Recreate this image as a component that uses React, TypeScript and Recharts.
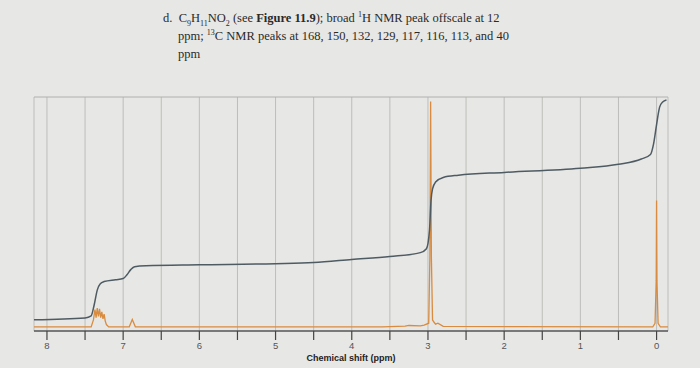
import { ComposedChart, Line, XAxis, YAxis, CartesianGrid, ReferenceLine } from "recharts";

// chemical shift ticks (ppm), every half unit
const TICKS = [0, 0.5, 1, 1.5, 2, 2.5, 3, 3.5, 4, 4.5, 5, 5.5, 6, 6.5, 7, 7.5, 8];

// 1H spectrum trace (ppm, intensity)
const spectrumPpm = [
  8.17, 7.42, 7.39, 7.37, 7.355, 7.34, 7.325, 7.31, 7.295, 7.28, 7.265, 7.25, 7.235, 7.22, 7.19,
  6.92, 6.895, 6.88, 6.865, 6.84,
  3.6, 3.3, 3.25, 3.1, 3.05, 2.99, 2.975, 2.965, 2.955, 2.94, 2.92, 2.9, 2.87, 2.8,
  0.05, 0.02, 0.005, 0.0, -0.005, -0.02, -0.05, -0.15,
];
const spectrumInt = [
  0, 0, 3, 7.5, 4, 8.2, 4.5, 7.8, 4, 6.5, 3.5, 5.5, 2.5, 1, 0,
  0, 2, 3.2, 2, 0,
  0, 0.3, 0.6, 0.4, 0.8, 1.6, 30, 98, 30, 3, 2, 1.2, 1.6, 0.2,
  0, 1.5, 20, 55, 20, 1.5, 0, 0,
];

// integral trace (ppm, height)
const integralPpm = [
  8.17, 7.5, 7.42, 7.38, 7.34, 7.3, 7.25, 7.1, 7.0, 6.95, 6.9, 6.85, 6.7, 6.0, 5.0, 4.5, 4.0, 3.5,
  3.1, 3.02, 2.98, 2.96, 2.94, 2.9, 2.8, 2.6, 2.0, 1.0, 0.5, 0.2, 0.08, 0.04, 0.0, -0.04, -0.08, -0.13,
];
const integralInt = [
  3.1, 3.9, 4.8, 9.6, 16, 18.8, 19.7, 20.5, 21, 22.7, 24.9, 26.2, 26.6, 27, 27.5, 28, 29.3, 30.6,
  32.3, 34, 42, 55, 60, 63, 65, 66, 67.2, 69, 70.7, 73, 75, 79.5, 88, 95.6, 97.8, 98.7,
];

const spectrum = spectrumPpm.map((p, i) => ({ ppm: p, v: spectrumInt[i] }));
const integral = integralPpm.map((p, i) => ({ ppm: p, v: integralInt[i] }));

const bg = "#e7e7e5";
const small = { fontSize: 8, lineHeight: 0 };

export default function App() {
  return (
    <div
      style={{
        position: "absolute",
        left: 0,
        top: 0,
        width: 700,
        height: 368,
        background: bg,
        overflow: "hidden",
      }}
    >
      <div
        style={{
          position: "absolute",
          left: 163,
          top: 9,
          width: 400,
          fontFamily: "'Liberation Serif', 'DejaVu Serif', serif",
          fontSize: 12.5,
          lineHeight: "18px",
          color: "#2a2a2a",
        }}
      >
        <div>
          d.&nbsp;&nbsp;C<sub style={small}>9</sub>H<sub style={small}>11</sub>NO
          <sub style={small}>2</sub> (see <b>Figure 11.9</b>); broad <sup style={small}>1</sup>H
          NMR peak offscale at 12
        </div>
        <div style={{ paddingLeft: 15 }}>
          ppm; <sup style={small}>13</sup>C NMR peaks at 168, 150, 132, 129, 117, 116, 113, and 40
        </div>
        <div style={{ paddingLeft: 15 }}>ppm</div>
      </div>

      <ComposedChart
        width={700}
        height={368}
        margin={{ top: 97, right: 32, left: 34, bottom: 0 }}
        style={{ position: "absolute", left: 0, top: 0 }}
      >
        <CartesianGrid horizontal={false} stroke="#bdbdbb" strokeWidth={1} />
        <XAxis
          type="number"
          dataKey="ppm"
          domain={[-0.15, 8.17]}
          reversed
          allowDataOverflow
          ticks={TICKS}
          interval={0}
          height={37}
          tickSize={9}
          tickFormatter={(t: number) => (Number.isInteger(t) ? String(t) : "")}
          tick={{ fontSize: 9.5, fill: "#555", fontFamily: "'Liberation Sans', Arial, sans-serif" }}
          axisLine={{ stroke: "#555", strokeWidth: 1.5 }}
          tickLine={{ stroke: "#444", strokeWidth: 1.2 }}
          label={{
            value: "Chemical shift (ppm)",
            position: "insideBottom",
            offset: 7,
            style: {
              fontSize: 9,
              fontWeight: "bold",
              fill: "#222",
              fontFamily: "'Liberation Sans', Arial, sans-serif",
            },
          }}
        />
        <YAxis
          type="number"
          domain={[-1.8, 100]}
          allowDataOverflow
          width={0}
          tick={false}
          tickLine={false}
          axisLine={{ stroke: "#3c3c3c", strokeWidth: 1.5 }}
        />
        <ReferenceLine y={100} stroke="#b0b0ae" strokeWidth={1} />
        <Line
          data={spectrum}
          dataKey="v"
          type="linear"
          stroke="#d98c3f"
          strokeWidth={1.3}
          dot={false}
          isAnimationActive={false}
        />
        <Line
          data={integral}
          dataKey="v"
          type="monotone"
          stroke="#4e5b63"
          strokeWidth={1.5}
          dot={false}
          isAnimationActive={false}
        />
      </ComposedChart>
    </div>
  );
}
